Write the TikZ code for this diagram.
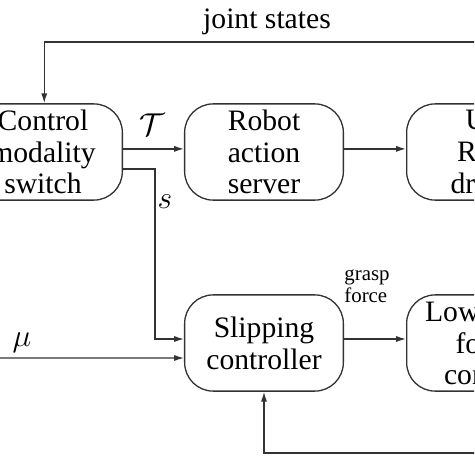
\documentclass[tikz,border=0pt]{standalone}
\usepackage{fontspec}
\setmainfont{Liberation Serif}
\usetikzlibrary{arrows.meta, positioning}

\begin{document}
\begin{tikzpicture}[x=0.016cm, y=-0.016cm,
    >={Latex[length=4.5pt, width=2.8pt]},
    font=\fontsize{13.5}{14.5}\selectfont,
    block/.style={draw=black!80, line width=0.6pt, rounded corners=13pt,
      align=center, minimum width=2.54cm, minimum height=1.54cm,
      inner sep=0pt},
    conn/.style={->, draw=black!80, line width=0.6pt},
    smalllabel/.style={font=\fontsize{9.5}{10}\selectfont, align=left}]
  % visible window of the larger diagram
  \clip (0,0) rectangle (474,474);

  % top row
  \node[block] (switch) at (43,152) {Control\\modality\\switch};
  \node[block] (server) at (264,152) {Robot\\action\\server};
  \node[block] (driver) at (486,152) {UR\\ROS\\driver};

  % bottom row
  \node[block] (slip) at (264,343) {Slipping\\controller};
  \node[block] (lowlevel) at (486,343) {Low-level\\force\\control};

  % free ends coming from outside the window
  \coordinate (jsin) at (490,42);
  \coordinate (muin) at (-10,358);
  \coordinate (fbin) at (490,453);

  % joint state feedback
  \draw[conn] (jsin) -| ([xshift=0.02cm]switch.north);
  \node (jslabel) at (267,22) {joint states};

  % top row signals
  \draw[conn] ([yshift=0.05cm]switch.east) -- ([yshift=0.05cm]server.west);
  \node (taulabel) at (152,125) {$\mathcal{T}$};
  \draw[conn] ([yshift=0.05cm]server.east) -- ([yshift=0.05cm]driver.west);

  % modality signal down to the slipping controller
  \draw[conn] ([yshift=-0.27cm]switch.east) -- ++(32,0)
    |- ([yshift=0.064cm]slip.west);
  \node (slabel) at (165,202) {$s$};

  % friction input
  \draw[conn] (muin) -- ([yshift=-0.24cm]slip.west);
  \node (mulabel) at (22,343) {$\mu$};

  % grasp force
  \draw[conn] ([yshift=0.064cm]slip.east) -- ([yshift=0.064cm]lowlevel.west);
  \node[smalllabel] (gflabel) at (367,286) {grasp\\force};

  % force feedback
  \draw[conn] (fbin) -| (slip.south);
\end{tikzpicture}
\end{document}
